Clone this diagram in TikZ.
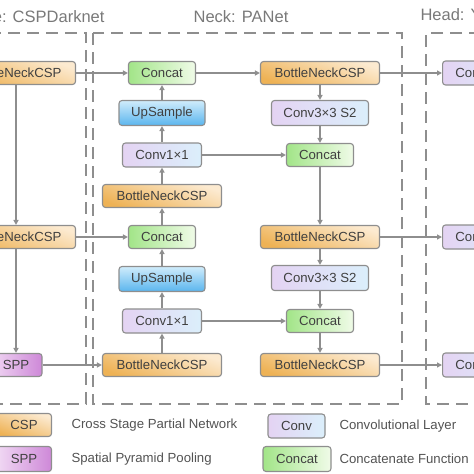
\documentclass[tikz,border=0pt]{standalone}
\usepackage{fontspec}
\setmainfont{Liberation Sans}
\usepackage{tikz}
\usetikzlibrary{arrows.meta}
\definecolor{rim}{HTML}{8E8E8E}
\definecolor{ink}{HTML}{404040}
\definecolor{cspA}{HTML}{FCEAD0}
\definecolor{cspB}{HTML}{EEB255}
\definecolor{catA}{HTML}{A2E588}
\definecolor{catB}{HTML}{F0FBE8}
\definecolor{upA}{HTML}{D0ECFB}
\definecolor{upB}{HTML}{5AB5EE}
\definecolor{cnvA}{HTML}{E4D3F3}
\definecolor{cnvB}{HTML}{DBEFFB}
\definecolor{sppA}{HTML}{F1DAF4}
\definecolor{sppB}{HTML}{CE88D8}
\tikzset{
  blk/.style={draw=rim,line width=1.1pt,rounded corners=3pt,inner sep=0pt,
    minimum height=23pt,text=ink,font=\fontsize{13.2}{15}\selectfont},
  csp/.style={blk,minimum width=119pt,top color=cspA,bottom color=cspB,shading angle=-20},
  concat/.style={blk,minimum width=67pt,left color=catA,right color=catB},
  upsample/.style={blk,minimum width=86pt,minimum height=25pt,top color=upA,bottom color=upB},
  conv/.style={blk,minimum width=79pt,minimum height=24pt,left color=cnvA,right color=cnvB},
  spp/.style={blk,minimum width=52pt,left color=sppA,right color=sppB},
  arr/.style={draw=rim,line width=1.4pt,-{Triangle[length=5pt,width=5pt]}},
  dashbox/.style={draw=rim,line width=1.6pt,dash pattern=on 12pt off 7pt},
  title/.style={text=rim!85!black,font=\fontsize{16.5}{19}\selectfont},
  legtext/.style={anchor=west,text=ink!90,font=\fontsize{13.2}{15}\selectfont}
}
\begin{document}
\begin{tikzpicture}[x=1pt,y=-1pt]
\useasboundingbox (0,0) rectangle (474,474);
\clip (0,0) rectangle (474,474);

% riquadri tratteggiati
\draw[dashbox] (-30,33) -- (86,33) -- (86,404) -- (-30,404);
\draw[dashbox] (93,33) rectangle (402,404);
\draw[dashbox] (500,33) -- (426,33) -- (426,404) -- (500,404);

\node[title,anchor=east] (tback) at (108,16.5) {Backbone: CSPDarknet};
\node[title] (tneck) at (241,16.5) {Neck: PANet};
\node[title,anchor=west] (thead) at (417,16.5) {Head: Yolo Layer};

% backbone
\node[csp] (b1) at (16,73) {BottleNeckCSP};
\node[csp] (b2) at (16,237) {BottleNeckCSP};
\node[spp] (b3) at (16,365) {SPP};

% neck, colonna sinistra
\node[concat] (c1) at (162,73) {Concat};
\node[upsample] (u1) at (162,113) {UpSample};
\node[conv] (k1) at (162,155) {Conv1×1};
\node[csp] (n1) at (162,196) {BottleNeckCSP};
\node[concat] (c2) at (162,237) {Concat};
\node[upsample] (u2) at (162,279) {UpSample};
\node[conv] (k2) at (162,321) {Conv1×1};
\node[csp] (n2) at (162,365) {BottleNeckCSP};

% neck, colonna destra
\node[csp] (m1) at (320,73) {BottleNeckCSP};
\node[conv,minimum width=97pt,minimum height=25pt] (s1) at (320,113) {Conv3×3 S2};
\node[concat] (c3) at (320,155) {Concat};
\node[csp] (m2) at (320,237) {BottleNeckCSP};
\node[conv,minimum width=97pt,minimum height=25pt] (s2) at (320,278) {Conv3×3 S2};
\node[concat] (c4) at (320,321) {Concat};
\node[csp] (m3) at (320,365) {BottleNeckCSP};

% head
\node[conv,anchor=west] (h1) at (442,73) {Conv1×1};
\node[conv,anchor=west] (h2) at (442,237) {Conv1×1};
\node[conv,anchor=west] (h3) at (442,365) {Conv1×1};

\draw[arr] (b1) -- (b2);
\draw[arr] (b2) -- (b3);
\draw[arr] (b1) -- (c1);
\draw[arr] (b2) -- (c2);
\draw[arr] (b3) -- (n2);

\draw[arr] (n2) -- (k2);
\draw[arr] (k2) -- (u2);
\draw[arr] (u2) -- (c2);
\draw[arr] (c2) -- (n1);
\draw[arr] (n1) -- (k1);
\draw[arr] (k1) -- (u1);
\draw[arr] (u1) -- (c1);

\draw[arr] (c1) -- (m1);
\draw[arr] (k1) -- (c3);
\draw[arr] (k2) -- (c4);

\draw[arr] (m1) -- (s1);
\draw[arr] (s1) -- (c3);
\draw[arr] (c3) -- (m2);
\draw[arr] (m2) -- (s2);
\draw[arr] (s2) -- (c4);
\draw[arr] (c4) -- (m3);

\draw[arr] (m1) -- (h1);
\draw[arr] (m2) -- (h2);
\draw[arr] (m3) -- (h3);

% legenda
\node[csp,minimum width=55pt] (lcsp) at (24,425) {CSP};
\node[spp,minimum width=55pt,minimum height=25pt] (lspp) at (24,459) {SPP};
\node[conv,minimum width=57pt] (lconv) at (296.5,426) {Conv};
\node[concat,minimum width=68pt,minimum height=25pt] (lcat) at (297,459) {Concat};
\node[legtext] (tcsp) at (68,425) {Cross Stage Partial Network};
\node[legtext] (tspp) at (68,459) {Spatial Pyramid Pooling};
\node[legtext] (tconv) at (336,426) {Convolutional Layer};
\node[legtext] (tcat) at (336,459) {Concatenate Function};
\end{tikzpicture}
\end{document}
